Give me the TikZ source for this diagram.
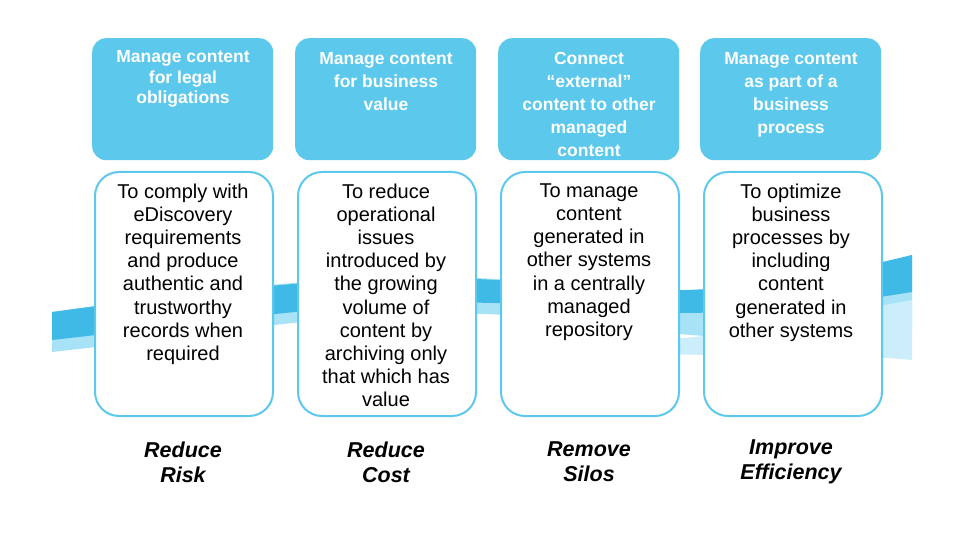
\documentclass[tikz,border=0pt]{standalone}
\usepackage{fontspec}
\setmainfont{Liberation Sans}
\begin{document}
\begin{tikzpicture}[x=1pt,y=-1pt,
 head/.style={fill=hb,rounded corners=14pt,anchor=north west,minimum width=181pt,minimum height=122pt,inner sep=0pt},
 body/.style={draw=hb,line width=2pt,fill=white,rounded corners=24pt,minimum width=178pt,minimum height=244pt,inner sep=0pt,anchor=north west},
 htxt/.style={anchor=north,font=\bfseries\fontsize{17.5}{23}\selectfont,text=white,align=center},
 btxt/.style={anchor=north,font=\fontsize{20}{23.2}\selectfont,align=center},
 foot/.style={font=\bfseries\itshape\fontsize{21.5}{25}\selectfont,align=center}]
\definecolor{hb}{HTML}{5BC8EC}
\definecolor{w1}{HTML}{3FB9E6}
\definecolor{w2}{HTML}{A8E2F6}
\useasboundingbox (0,0) rectangle (960,540);
\fill[w2] (52,312) .. controls (250,285) and (400,265) .. (560,285) .. controls (700,300) and (800,285) .. (912,255) -- (912,330) .. controls (800,345) and (700,340) .. (560,320) .. controls (400,300) and (250,330) .. (52,352) -- cycle;
\fill[w1] (52,312) .. controls (250,285) and (400,268) .. (560,285) .. controls (700,300) and (800,282) .. (912,255) -- (912,292) .. controls (800,310) and (700,320) .. (560,307) .. controls (400,292) and (250,318) .. (52,340) -- cycle;
\fill[w2!60] (912,300) .. controls (800,320) and (700,345) .. (600,340) -- (600,350) .. controls (700,360) and (800,350) .. (912,360) -- cycle;
\node[head] (h1) at (92,38) {};
\node[head] (h2) at (295,38) {};
\node[head] (h3) at (498,38) {};
\node[head] (h4) at (700,38) {};
\node[htxt,font=\bfseries\fontsize{17.5}{20.5}\selectfont] (t1) at (183,47) {Manage content\\for legal\\obligations};
\node[htxt] (t2) at (386,49) {Manage content\\for business\\value};
\node[htxt] (t3) at (589,49) {Connect\\``external''\\content to other\\managed\\content};
\node[htxt] (t4) at (791,49) {Manage content\\as part of a\\business\\process};
\node[body] (b1) at (94,171) {};
\node[body] (b2) at (297,171) {};
\node[body] (b3) at (500,171) {};
\node[body] (b4) at (703,171) {};
\node[btxt] (c1) at (183,180) {To comply with\\eDiscovery\\requirements\\and produce\\authentic and\\trustworthy\\records when\\required};
\node[btxt] (c2) at (386,180) {To reduce\\operational\\issues\\introduced by\\the growing\\volume of\\content by\\archiving only\\that which has\\value};
\node[btxt] (c3) at (589,180) {To manage\\content\\generated in\\other systems\\in a centrally\\managed\\repository};
\node[btxt] (c4) at (791,180) {To optimize\\business\\processes by\\including\\content\\generated in\\other systems};
\node[foot] (f1) at (183,462) {Reduce\\Risk};
\node[foot] (f2) at (386,462) {Reduce\\Cost};
\node[foot] (f3) at (589,462) {Remove\\Silos};
\node[foot] (f4) at (791,462) {Improve\\Efficiency};
\end{tikzpicture}
\end{document}
